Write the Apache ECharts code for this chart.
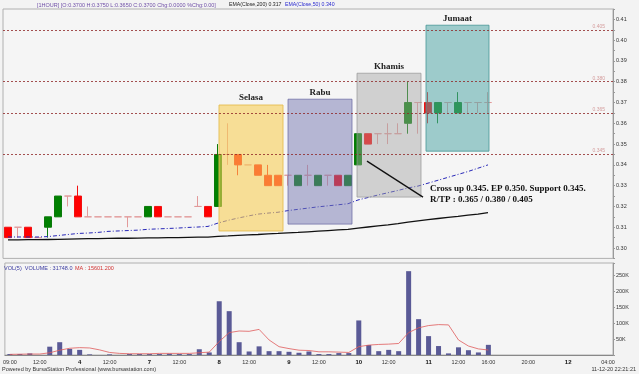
<!DOCTYPE html>
<html><head><meta charset="utf-8">
<script src="https://cdn.jsdelivr.net/npm/echarts@6/dist/echarts.min.js"></script>
<style>html,body{margin:0;padding:0;background:#F3F3F3;}#c{width:639px;height:374px;}</style>
</head><body><div id="c"></div>
<script>
// ---- categories (hourly slots) ----
const timeSlots = [
 '3 09','3 10','3 11','3 12','3 14','3 15','3 16',
 '4 09','4 10','4 11','4 12','4 14','4 15','4 16',
 '7 09','7 10','7 11','7 12','7 14','7 15','7 16',
 '8 09','8 10','8 11','8 12','8 14','8 15','8 16',
 '9 09','9 10','9 11','9 12','9 14','9 15','9 16',
 '10 09','10 10','10 11','10 12','10 14','10 15','10 16',
 '11 09','11 10','11 11','11 12','11 14','11 15','11 16',
 '11 17','11 18','11 19','11 20','11 21','11 22','11 23',
 '12 00','12 01','12 02','12 03','12 04'];
const tickLabels = [
 '09:00','','','12:00','','','',
 '4','','','12:00','','','',
 '7','','','12:00','','','',
 '8','','','12:00','','','',
 '9','','','12:00','','','',
 '10','','','12:00','','','',
 '11','','','12:00','','','16:00',
 '','','','20:00','','','',
 '12','','','','04:00'];
// ---- OHLC ----
const opens  = [0.310,0.310,0.310,0.305,0.310,0.315,0.325, 0.325,0.315,0.315,0.315,0.315,0.315,0.315,
                0.315,0.320,0.315,0.315,0.315,0.320,0.320, 0.320,0.345,0.345,0.340,0.340,0.335,0.335,
                0.335,0.330,0.335,0.330,0.335,0.335,0.330, 0.340,0.355,0.355,0.355,0.355,0.360,0.370,
                0.370,0.365,0.370,0.365,0.370,0.370,0.370];
const closes = [0.305,0.310,0.305,0.305,0.315,0.325,0.325, 0.315,0.315,0.315,0.315,0.315,0.315,0.315,
                0.320,0.315,0.315,0.315,0.315,0.320,0.315, 0.345,0.345,0.340,0.340,0.335,0.330,0.330,
                0.335,0.335,0.335,0.335,0.335,0.330,0.335, 0.355,0.350,0.355,0.355,0.355,0.370,0.370,
                0.365,0.370,0.370,0.370,0.370,0.370,0.370];
const lows   = [0.305,0.305,0.305,0.305,0.305,0.315,0.320, 0.315,0.315,0.315,0.315,0.315,0.310,0.315,
                0.315,0.315,0.315,0.315,0.315,0.320,0.315, 0.320,0.340,0.335,0.340,0.335,0.330,0.330,
                0.330,0.330,0.330,0.330,0.330,0.330,0.330, 0.340,0.350,0.350,0.350,0.355,0.355,0.355,
                0.360,0.360,0.365,0.365,0.365,0.365,0.365];
const highs  = [0.310,0.310,0.310,0.305,0.315,0.325,0.325, 0.330,0.320,0.315,0.315,0.315,0.315,0.315,
                0.320,0.320,0.315,0.315,0.315,0.325,0.320, 0.350,0.360,0.345,0.340,0.340,0.340,0.335,
                0.335,0.335,0.340,0.335,0.335,0.335,0.335, 0.355,0.355,0.355,0.360,0.360,0.380,0.370,
                0.375,0.370,0.370,0.375,0.370,0.370,0.375];
const ema200 = [0.3039,0.3039,0.3040,0.3040,0.3041,0.3042,0.3043, 0.3044,0.3045,0.3045,0.3046,0.3047,0.3047,0.3048,
                0.3049,0.3049,0.3050,0.3050,0.3051,0.3052,0.3052, 0.3056,0.3058,0.3061,0.3063,0.3065,0.3068,0.3070,
                0.3073,0.3075,0.3078,0.3081,0.3084,0.3087,0.3090, 0.3096,0.3101,0.3106,0.3111,0.3117,0.3125,0.3131,
                0.3137,0.3142,0.3147,0.3152,0.3158,0.3163,0.3170];
const ema50  = [0.3053,0.3053,0.3053,0.3053,0.3055,0.3060,0.3065, 0.3070,0.3072,0.3075,0.3080,0.3082,0.3084,0.3086,
                0.3090,0.3092,0.3094,0.3096,0.3099,0.3101,0.3104, 0.3120,0.3133,0.3144,0.3154,0.3163,0.3168,0.3172,
                0.3180,0.3186,0.3192,0.3198,0.3203,0.3208,0.3213, 0.3231,0.3243,0.3255,0.3266,0.3277,0.3289,0.3298,
                0.3312,0.3326,0.3340,0.3354,0.3368,0.3384,0.3400];
// ---- volume ----
const volumes = [3000,3000,5000,0,26000,40000,19000, 16000,2000,0,2000,0,3000,3000,
                 3000,3000,4000,3000,3000,18000,8000, 168000,137000,40000,11000,27000,12000,12000,
                 10000,7000,11000,3000,3000,6000,6000, 108000,31000,12000,16000,12000,262000,112000,
                 59000,28000,5000,24000,15000,8000,31748];
const volMA = [2000,2500,3000,3000,7000,15000,21000, 23000,22000,16000,8000,5000,4000,4000,
               4000,5000,5000,5000,5000,7000,9000, 42000,70000,75000,74000,80000,47000,26000,
               20000,15000,14000,10000,10000,9000,8000, 26000,31000,33000,34000,36000,70000,85000,
               92000,95000,94000,47000,28000,19000,15601.2];
// ---- annotations ----
const levels = [0.405, 0.380, 0.365, 0.345];
const boxNames  = ['Selasa','Rabu','Khamis','Jumaat'];
const boxStart  = [21.1, 28.0, 34.9, 41.8];
const boxEnd    = [27.5, 34.4, 41.3, 48.1];
const boxTop    = [0.3688, 0.3716, 0.3841, 0.4072];
const boxBottom = [0.3082, 0.3115, 0.3245, 0.3466];
const arrowFrom = [41.5, 0.3245];
const arrowTo   = [35.9, 0.3418];
const noteAt    = [42.2, 0.3258];
const noteLines = ['Cross up 0.345. EP 0.350. Support 0.345.', 'R/TP : 0.365 / 0.380 / 0.405'];

const boxFill   = ['rgba(249,207,86,0.6)','rgba(118,120,178,0.5)','rgba(164,164,164,0.45)','rgba(84,168,168,0.55)'];
const boxBorder = ['rgba(230,190,80,0.9)','rgba(100,100,160,0.7)','rgba(150,150,150,0.7)','rgba(70,150,150,0.8)'];

const ohlc = opens.map((o,i)=>[o, closes[i], lows[i], highs[i]]);
const n = opens.length - 1;
const lastClose = closes[n];
const f4 = v => v.toFixed(4);

const chart = echarts.init(document.getElementById('c'));
const small = {fontFamily:'Liberation Sans', fontSize:5.5};
chart.setOption({
  animation:false,
  backgroundColor:'#F3F3F3',
  grid:[
    {left:3, right:26, top:9, height:249.4, show:true, backgroundColor:'#F5F5F5', borderColor:'#b0b0b0', borderWidth:1},
    {left:3, right:26, top:263, height:92, show:true, backgroundColor:'#F5F5F5', borderColor:'#b0b0b0', borderWidth:1}
  ],
  xAxis:[
    {type:'category', gridIndex:0, data:timeSlots, axisLine:{show:false, onZero:false}, axisTick:{show:false}, axisLabel:{show:false}},
    {type:'category', gridIndex:1, data:timeSlots, axisLine:{onZero:false, lineStyle:{color:'#888'}}, axisTick:{show:false},
      axisLabel:{interval:(i)=>tickLabels[i]!=='', margin:4, color:'#333', ...small,
        formatter:(v,i)=>{const t=tickLabels[i]; return t.indexOf(':')>=0 ? t : '{b|'+t+'}';},
        rich:{b:{fontWeight:'bold', fontSize:6, fontFamily:'Liberation Sans', color:'#111'}}}},
    {type:'value', gridIndex:0, min:-0.5, max:60.5, show:false, axisLine:{onZero:false}}
  ],
  yAxis:[
    {type:'value', gridIndex:0, position:'right', min:0.295, max:0.415, interval:0.005,
      axisLine:{show:true, onZero:false, lineStyle:{color:'#999'}}, axisTick:{show:true, length:2, lineStyle:{color:'#999'}},
      splitLine:{show:false},
      axisLabel:{margin:3, color:'#333', ...small, formatter:v=>Math.round(v*1000)%10===0 ? v.toFixed(2) : ''}},
    {type:'value', gridIndex:1, position:'right', min:0, max:287500, interval:50000,
      axisLine:{show:true, onZero:false, lineStyle:{color:'#999'}}, axisTick:{show:true, length:2, lineStyle:{color:'#999'}},
      splitLine:{show:false},
      axisLabel:{margin:3, color:'#333', ...small, formatter:v=>(v>0 && v%50000===0) ? (v/1000)+'K' : ''}}
  ],
  series:[
    {type:'candlestick', xAxisIndex:0, yAxisIndex:0, data:ohlc, barWidth:7, z:2,
      itemStyle:{color:'#008000', color0:'#FF0000', borderColor:'#0a7a0a', borderColor0:'#F21010', borderColorDoji:'#E29A9A', borderWidth:1},
      markLine:{silent:true, precision:3, symbol:['none','none'], animation:false,
        data: levels.map(l=>({yAxis:l, lineStyle:{color:'#8E2424', type:[2,2], width:0.8},
                 label:{show:true, position:'insideEndTop', distance:[8,1], formatter:l.toFixed(3), color:'#D49C9C', fontFamily:'Liberation Sans', fontSize:5}}))
          .concat([{yAxis:lastClose, lineStyle:{opacity:0},
                 label:{show:true, position:'end', distance:1, formatter:lastClose.toFixed(2), color:'#fff', backgroundColor:'#800080',
                        padding:[2,6,1,2], fontFamily:'Liberation Sans', fontSize:5.5}}])}
    },
    {type:'line', xAxisIndex:0, yAxisIndex:0, data:ema200, symbol:'none', z:3, lineStyle:{color:'#111', width:1.3}},
    {type:'line', xAxisIndex:0, yAxisIndex:0, data:ema50, symbol:'none', z:3, lineStyle:{color:'#2828B8', width:1, type:[4,2,1,2]}},
    {type:'line', xAxisIndex:2, yAxisIndex:0, data:[], z:5,
      markArea:{silent:true, z:4,
        data: boxNames.map((nm,i)=>[
          {name:nm, coord:[boxStart[i], boxTop[i]], itemStyle:{color:boxFill[i], borderColor:boxBorder[i], borderWidth:1},
           label:{show:true, position:'top', distance:2, color:'#222', fontFamily:'Liberation Serif', fontWeight:'bold', fontSize:9}},
          {coord:[boxEnd[i], boxBottom[i]]}])},
      markLine:{silent:true, precision:4, z:6, symbol:['none','arrow'], symbolSize:[0,7], animation:false,
        lineStyle:{color:'#111', width:1.3, type:'solid'}, label:{show:false},
        data:[[{coord:arrowFrom},{coord:arrowTo}]]},
      markPoint:{silent:true, z:6, symbol:'circle', symbolSize:0, animation:false,
        data:[{coord:noteAt, label:{show:true, position:'right', distance:0, formatter:noteLines.join('\n'),
          color:'#111', fontFamily:'Liberation Serif', fontWeight:'bold', fontSize:9, lineHeight:11, align:'left'}}]}
    },
    {type:'bar', xAxisIndex:1, yAxisIndex:1, data:volumes, barWidth:5, itemStyle:{color:'#5a5a96'},
      markLine:{silent:true, precision:1, symbol:['none','none'], animation:false,
        data:[{yAxis:volumes[n], lineStyle:{opacity:0},
          label:{show:true, position:'end', distance:1, formatter:String(volumes[n]), color:'#fff', backgroundColor:'#1010D0',
                 padding:[2,4,1,2], fontFamily:'Liberation Sans', fontSize:5.5}}]}},
    {type:'line', xAxisIndex:1, yAxisIndex:1, data:volMA, symbol:'none', lineStyle:{color:'#E05a5a', width:0.8}}
  ],
  graphic:[
    {type:'text', left:37, top:2, style:{text:'[1HOUR] [O:'+f4(opens[n])+' H:'+f4(highs[n])+' L:'+f4(lows[n])+' C:'+f4(closes[n])+' Chg:0.0000 %Chg:0.00]', fill:'#7050A8', font:'5.5px "Liberation Sans"'}},
    {type:'text', left:229, top:2, style:{text:'EMA(Close,200) '+ema200[n].toFixed(3), fill:'#222', font:'5.2px "Liberation Sans"'}},
    {type:'text', left:285, top:2, style:{text:'EMA(Close,50) '+ema50[n].toFixed(3), fill:'#2B2BD0', font:'5.2px "Liberation Sans"'}},
    {type:'text', left:4, top:265, style:{text:'VOL(5)  VOLUME : '+volumes[n].toFixed(1), fill:'#3A3AA0', font:'5.5px "Liberation Sans"'}},
    {type:'text', left:75, top:265, style:{text:'MA : '+volMA[n].toFixed(3), fill:'#D03030', font:'5.5px "Liberation Sans"'}},
    {type:'text', left:2, top:366, style:{text:'Powered by BursaStation Professional (www.bursastation.com)', fill:'#333', font:'5.5px "Liberation Sans"'}},
    {type:'text', right:3, top:366, style:{text:'11-12-20 22:21:21', fill:'#333', font:'5.5px "Liberation Sans"'}}
  ]
});
</script></body></html>
